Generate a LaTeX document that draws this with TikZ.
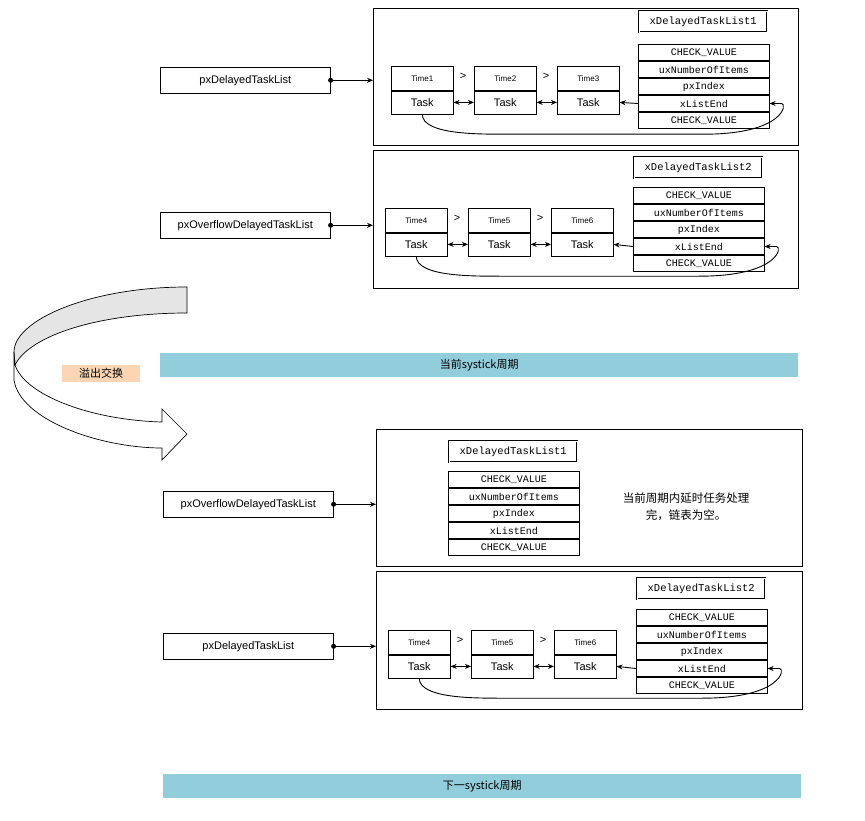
\documentclass[tikz,border=0pt]{standalone}
\usepackage{fontspec}
\setmainfont{Liberation Sans}
\newfontfamily\cjk{Noto Sans CJK SC}
\newfontfamily\mono{Liberation Mono}
\usetikzlibrary{arrows.meta,positioning}
\definecolor{barblue}{HTML}{92CDDC}
\definecolor{peach}{HTML}{FCD5B4}
\tikzset{
 frame/.style={draw,line width=0.8pt},
 ptr/.style={draw,line width=0.6pt,minimum width=170pt,minimum height=26pt,inner sep=0pt,font=\fontsize{11}{12}\selectfont},
 cell/.style={draw,line width=0.6pt,minimum width=131pt,minimum height=16.4pt,inner sep=0pt,font=\mono\fontsize{10}{11}\selectfont},
 ttl/.style={draw,double,double distance=1pt,line width=0.5pt,minimum width=128pt,minimum height=21pt,inner sep=0pt,font=\mono\fontsize{10.5}{11}\selectfont},
 tim/.style={draw,line width=0.6pt,minimum width=62pt,minimum height=24pt,inner sep=0pt,font=\fontsize{8}{9}\selectfont},
 tsk/.style={draw,line width=0.6pt,minimum width=62pt,minimum height=23pt,inner sep=0pt,font=\fontsize{11}{12}\selectfont},
 gt/.style={font=\fontsize{11}{12}\selectfont},
 arr/.style={-{Stealth[length=6pt,width=5pt]},line width=0.9pt},
 darr/.style={{Stealth[length=6pt,width=5pt]}-{Stealth[length=6pt,width=5pt]},line width=0.9pt},
 dot/.style={circle,fill,inner sep=0pt,minimum size=5pt},
 bar/.style={fill=barblue,minimum width=638pt,minimum height=24pt,inner sep=0pt,font=\cjk\fontsize{11}{12}\selectfont},
}
% struct: prefix, x-left, y-top
\newcommand\mkstruct[3]{%
 \node[cell,anchor=north west] (#1c1) at (#2,#3) {CHECK\_VALUE};
 \node[cell,below=0pt of #1c1] (#1c2) {uxNumberOfItems};
 \node[cell,below=0pt of #1c2] (#1c3) {pxIndex};
 \node[cell,below=0pt of #1c3] (#1c4) {xListEnd};
 \node[cell,below=0pt of #1c4] (#1c5) {CHECK\_VALUE};
}
% tasks: prefix, x of first, y top, names
\newcommand\mktasks[6]{%
 \node[tim,anchor=north west] (#1t1) at (#2,#3) {#4};
 \node[tsk,below=0pt of #1t1] (#1k1) {Task};
 \node[tim,anchor=north west] (#1t2) at (#2+83,#3) {#5};
 \node[tsk,below=0pt of #1t2] (#1k2) {Task};
 \node[tim,anchor=north west] (#1t3) at (#2+166,#3) {#6};
 \node[tsk,below=0pt of #1t3] (#1k3) {Task};
 \node[gt] (#1g1) at (#2+72,#3+10) {>};
 \node[gt] (#1g2) at (#2+155,#3+10) {>};
 \draw[darr] (#1k1) -- (#1k2);
 \draw[darr] (#1k2) -- (#1k3);
 \draw[arr] (#1c4.west) -- (#1k3.east);
 \draw[arr] (#1k1.south) .. controls +(0,20) and +(-30,0) .. ([yshift=-20pt]#1k1.south -| #1k2.center) -- ([yshift=-20pt]#1k1.south -| #1c3.center) .. controls +(80,0) and +(6,0) .. ([xshift=12pt]#1c4.east) -- (#1c4.east);
}
\begin{document}
\begin{tikzpicture}[x=1pt,y=-1pt]
\useasboundingbox (0,0) rectangle (865,821);
% box 1
\node[frame,minimum width=425pt,minimum height=137pt,anchor=north west,inner sep=0pt] (b1) at (373,8) {};
\node[ttl,anchor=north west] (ti1) at (639,11) {xDelayedTaskList1};
\mkstruct{a}{638}{44}
\mktasks{a}{391}{66}{Time1}{Time2}{Time3}
\node[ptr,anchor=north west] (p1) at (160,67) {pxDelayedTaskList};
\node[dot] (d1) at (p1.east) {};
\draw[arr] (d1) -- (b1.west |- d1);
% box 2
\node[frame,minimum width=425pt,minimum height=138pt,anchor=north west,inner sep=0pt] (b2) at (373,150) {};
\node[ttl,anchor=north west] (ti2) at (634,157) {xDelayedTaskList2};
\mkstruct{b}{633}{187}
\mktasks{b}{385}{208}{Time4}{Time5}{Time6}
\node[ptr,anchor=north west] (p2) at (160,212) {pxOverflowDelayedTaskList};
\node[dot] (d2) at (p2.east) {};
\draw[arr] (d2) -- (b2.west |- d2);
% bar 1
\node[bar,anchor=north west] (bar1) at (160,353) {当前systick周期};
% curved arrow
\draw[fill=black!10,line width=0.7pt] (187,287) .. controls (90,287) and (14,320) .. (14,352) -- (15,365) .. controls (30,335) and (100,313) .. (187,313) -- cycle;
\draw[fill=white,line width=0.7pt] (14,352) -- (14,380) .. controls (20,420) and (100,448) .. (162,448) -- (162,460) -- (187,434) -- (162,409) -- (162,422) .. controls (90,420) and (25,395) .. (15,365) -- cycle;
\node[fill=peach,minimum width=78pt,minimum height=17pt,inner sep=0pt,font=\cjk\fontsize{11}{12}\selectfont] (sw) at (101,373) {溢出交换};
% box 3
\node[frame,minimum width=426pt,minimum height=137pt,anchor=north west,inner sep=0pt] (b3) at (376,429) {};
\node[ttl,anchor=north west] (ti3) at (449,441) {xDelayedTaskList1};
\mkstruct{c}{448}{471}
\node[align=center,font=\cjk\fontsize{11.5}{17}\selectfont] (msg) at (686,507) {当前周期内延时任务处理\\完，链表为空。};
\node[ptr,anchor=north west] (p3) at (163,491) {pxOverflowDelayedTaskList};
\node[dot] (d3) at (p3.east) {};
\draw[arr] (d3) -- (b3.west |- d3);
% box 4
\node[frame,minimum width=426pt,minimum height=138pt,anchor=north west,inner sep=0pt] (b4) at (376,571) {};
\node[ttl,anchor=north west] (ti4) at (637,578) {xDelayedTaskList2};
\mkstruct{e}{636}{609}
\mktasks{e}{388}{630}{Time4}{Time5}{Time6}
\node[ptr,anchor=north west] (p4) at (163,633) {pxDelayedTaskList};
\node[dot] (d4) at (p4.east) {};
\draw[arr] (d4) -- (b4.west |- d4);
% bar 2
\node[bar,anchor=north west] (bar2) at (163,774) {下一systick周期};
\end{tikzpicture}
\end{document}
